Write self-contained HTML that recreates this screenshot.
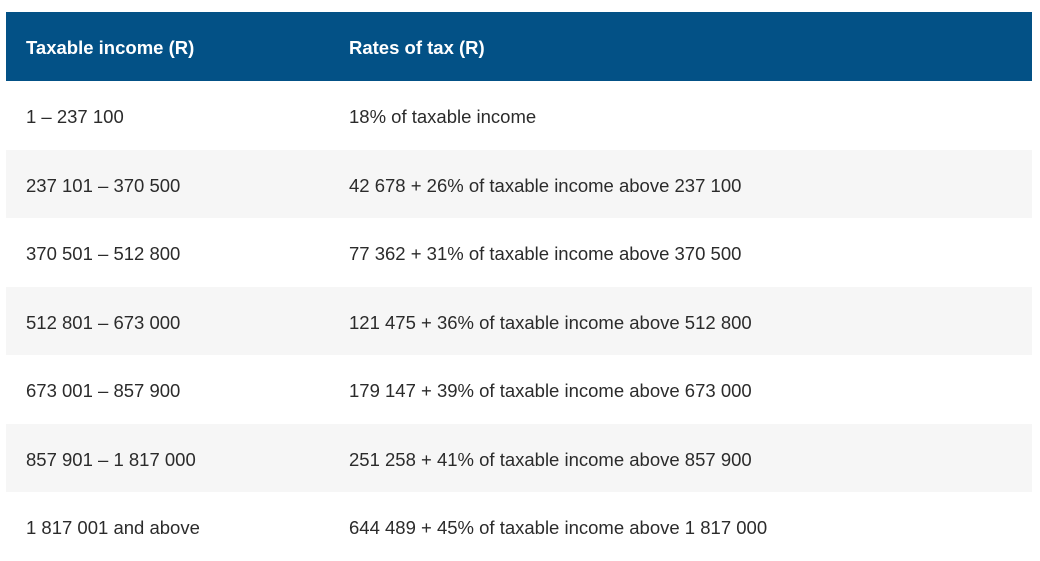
<!DOCTYPE html>
<html><head><style>
body{margin:0;width:1040px;height:547px;overflow:hidden;background:#fff;font-family:"Liberation Sans",sans-serif;}
.t{position:absolute;left:6px;top:12px;width:1026px;}
.r{height:68.5px;position:relative;color:#2b2b2b;font-size:18.5px;}
.r span{position:absolute;top:calc(50% + 2px);transform:translateY(-50%);white-space:nowrap;}
.a{left:20px}.b{left:343px}
.h{background:#035186;color:#fff;font-weight:bold;height:69px;}
.h span{top:calc(50% + 1px);}
.g{background:#f6f6f6;}
</style></head><body>
<div class="t">
<div class="r h"><span class="a">Taxable income (R)</span><span class="b">Rates of tax (R)</span></div>
<div class="r"><span class="a">1 – 237 100</span><span class="b">18% of taxable income</span></div>
<div class="r g"><span class="a">237 101 – 370 500</span><span class="b">42 678 + 26% of taxable income above 237 100</span></div>
<div class="r"><span class="a">370 501 – 512 800</span><span class="b">77 362 + 31% of taxable income above 370 500</span></div>
<div class="r g"><span class="a">512 801 – 673 000</span><span class="b">121 475 + 36% of taxable income above 512 800</span></div>
<div class="r"><span class="a">673 001 – 857 900</span><span class="b">179 147 + 39% of taxable income above 673 000</span></div>
<div class="r g"><span class="a">857 901 – 1 817 000</span><span class="b">251 258 + 41% of taxable income above 857 900</span></div>
<div class="r"><span class="a">1 817 001 and above</span><span class="b">644 489 + 45% of taxable income above 1 817 000</span></div>
</div>
</body></html>
